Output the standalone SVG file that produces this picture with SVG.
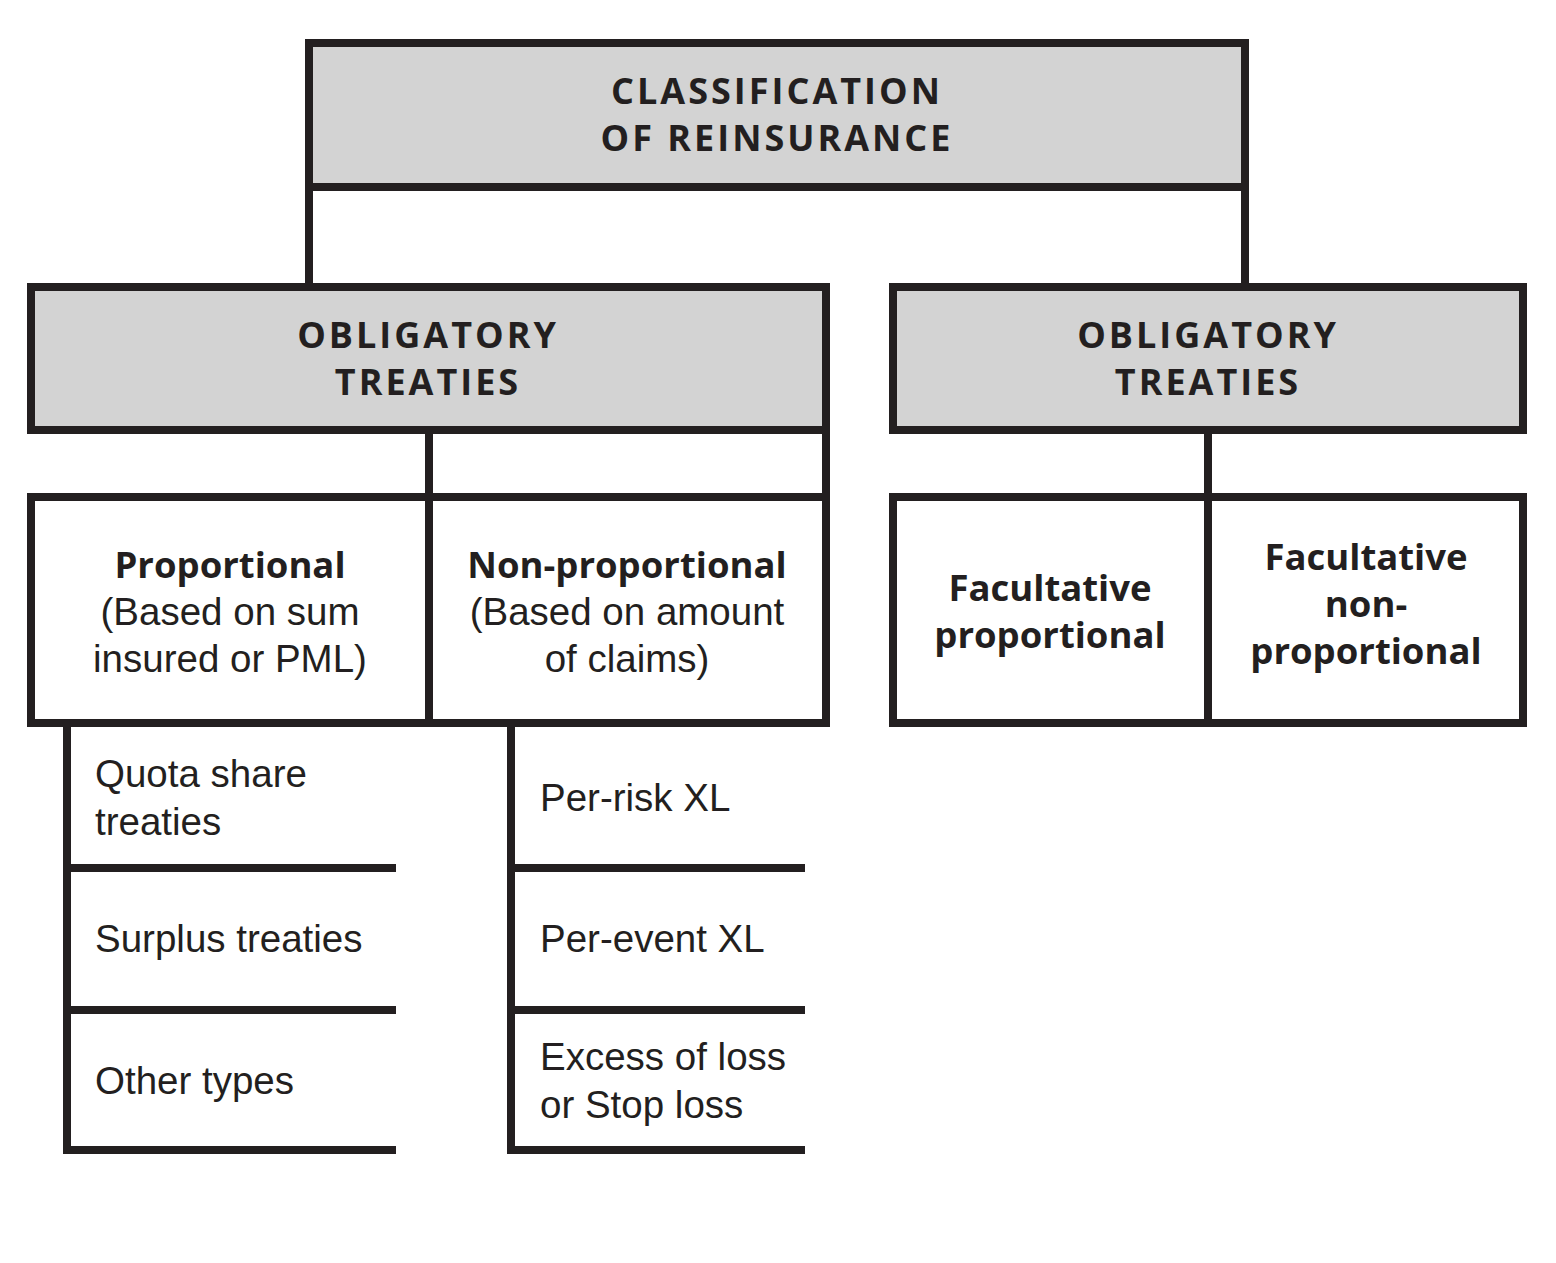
<svg xmlns="http://www.w3.org/2000/svg" width="1556" height="1263" viewBox="0 0 1556 1263">
<style>
.b{fill:none;stroke:#231f20;stroke-width:8}
.g{fill:#d3d3d3;stroke:#231f20;stroke-width:8}
.h{font-family:"Open Sans",sans-serif;font-weight:bold;font-size:36px;letter-spacing:3px;fill:#231f20;text-anchor:middle}
.k{font-family:"Open Sans",sans-serif;font-weight:bold;font-size:36.5px;fill:#231f20;text-anchor:middle}
.t{font-family:"Liberation Sans",Arial,sans-serif;font-size:38.5px;fill:#231f20}
.c{text-anchor:middle}
</style>
<rect width="1556" height="1263" fill="#fff"/>
<g id="root"><rect class="g" x="309" y="43" width="936" height="144"/>
<text class="h" x="777" y="104">CLASSIFICATION</text><text class="h" x="777" y="151">OF REINSURANCE</text></g>
<g id="connectors">
<path class="b" d="M309 187V283M1245 187V283"/>
<path class="b" d="M67 727V1152M63 868H396M63 1010H396M63 1150H396"/>
<path class="b" d="M511 727V1152M507 868H805M507 1010H805M507 1150H805"/>
</g>
<g id="obl1"><rect class="g" x="31" y="287" width="795" height="143"/>
<text class="h" x="428" y="348">OBLIGATORY</text><text class="h" x="428" y="395">TREATIES</text>
<path class="b" d="M28 497H830M826 430V497M429 430V727"/>
<rect class="b" x="31" y="497" width="795" height="226"/></g>
<g id="prop"><text class="k" x="230" y="578">Proportional</text>
<text class="t c" x="230" y="625">(Based on sum</text><text class="t c" x="230" y="672">insured or PML)</text></g>
<g id="nonprop"><text class="k" x="627" y="578">Non-proportional</text>
<text class="t c" x="627" y="625">(Based on amount</text><text class="t c" x="627" y="672">of claims)</text></g>
<g id="obl2"><rect class="g" x="893" y="287" width="630" height="143"/>
<text class="h" x="1208" y="348">OBLIGATORY</text><text class="h" x="1208" y="395">TREATIES</text>
<path class="b" d="M889 497H1527M1208 430V727"/>
<rect class="b" x="893" y="497" width="630" height="226"/></g>
<g id="facprop"><text class="k" x="1050" y="601">Facultative</text><text class="k" x="1050" y="648">proportional</text></g>
<g id="facnon"><text class="k" x="1366" y="570">Facultative</text><text class="k" x="1366" y="617">non-</text><text class="k" x="1366" y="664">proportional</text></g>
<g id="quota"><text class="t" x="95" y="787">Quota share</text><text class="t" x="95" y="835">treaties</text></g>
<g id="surplus"><text class="t" x="95" y="952">Surplus treaties</text></g>
<g id="other"><text class="t" x="95" y="1094">Other types</text></g>
<g id="perrisk"><text class="t" x="540" y="811">Per-risk XL</text></g>
<g id="perevent"><text class="t" x="540" y="952">Per-event XL</text></g>
<g id="xl"><text class="t" x="540" y="1070">Excess of loss</text><text class="t" x="540" y="1118">or Stop loss</text></g>
</svg>
